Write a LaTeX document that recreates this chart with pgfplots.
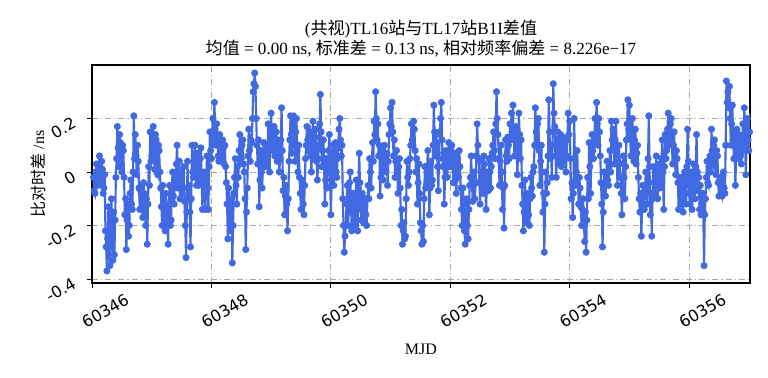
\documentclass[border=0pt]{standalone}
\usepackage{fontspec}
\setmainfont{Liberation Serif}
\newfontfamily\cjk{Noto Sans CJK SC}
\newfontfamily\tickfont{DejaVu Sans}
\usepackage{pgfplots}
\pgfplotsset{compat=1.18}
\definecolor{royal}{HTML}{4169E1}
\definecolor{gridc}{HTML}{A8A8A8}
\begin{document}
\begin{tikzpicture}
\useasboundingbox (-69pt,-71.25pt) rectangle (507pt,212.25pt);
\begin{axis}[
  scale only axis, width=493.5pt, height=163.5pt,
  at={(0,0)}, anchor=south west,
  xmin=0, xmax=11.02, ymin=-0.415, ymax=0.40,
  xtick={0,2,4,6,8,10}, xticklabels={60346,60348,60350,60352,60354,60356},
  ytick={-0.4,-0.2,0,0.2}, yticklabels={-0.4,-0.2,0,0.2},
  tick align=outside, major tick length=3.5pt,
  tick style={black, line width=0.6pt},
  xtick pos=lower, ytick pos=left,
  ticklabel style={font=\tickfont\fontsize{12}{12}\selectfont},
  xticklabel style={rotate=30, anchor=center, yshift=-20pt},
  yticklabel style={rotate=30, anchor=east, xshift=-6pt, yshift=3pt},
  grid=major, major grid style={gridc, line width=0.6pt, dash pattern=on 4.5pt off 2.2pt on 1pt off 2.2pt},
  axis line style={black, line width=0.8pt},
  xlabel={MJD}, ylabel={{\cjk 比对时差} /ns},
  label style={font=\fontsize{12}{14}\selectfont},
  xlabel style={at={(axis description cs:0.5,-0.306)}, anchor=center},
  ylabel style={at={(axis description cs:-0.082,0.5)}, anchor=center},
  title={({\cjk 共视})TL16{\cjk 站与}TL17{\cjk 站}B1I{\cjk 差值}\\{\cjk 均值} = 0.00 ns, {\cjk 标准差} = 0.13 ns, {\cjk 相对频率偏差} = 8.226e−17},
  title style={at={(axis description cs:0.5,1.085)}, anchor=center, align=center, font=\fontsize{12.8}{14.5}\selectfont},
]
\addplot[royal, line width=1.6pt, mark=*, mark size=1.8pt, mark options={royal, solid}] coordinates {
(0.025,-0.02)(0.0375,-0.07)(0.05,-0.08)(0.0625,0.0)(0.075,0.03)(0.0875,-0.03)(0.1,-0.05)(0.1125,0.02)(0.125,0.06)(0.1375,-0.02)(0.15,-0.03)(0.1625,0.04)(0.175,0.01)(0.1875,-0.08)(0.2,-0.06)(0.2125,-0.01)
(0.225,-0.22)(0.2375,-0.28)(0.25,-0.37)(0.2625,-0.25)(0.275,-0.13)(0.2875,-0.28)(0.3,-0.35)(0.3125,-0.2)(0.325,-0.10)(0.3375,-0.2)(0.35,-0.33)(0.3625,-0.15)(0.375,-0.31)(0.3875,-0.18)(0.4,-0.02)(0.4125,0.05)
(0.425,0.17)(0.4375,0.09)(0.45,0.02)(0.4625,0.14)(0.475,0.11)(0.4875,0.03)(0.5,0.0)(0.5125,0.1)(0.525,0.08)(0.5375,-0.02)(0.55,-0.16)(0.5625,-0.1)(0.575,-0.29)(0.5875,-0.18)(0.6,-0.12)(0.6125,-0.24)
(0.625,-0.2)(0.6375,-0.08)(0.65,-0.03)(0.6625,-0.12)(0.675,-0.14)(0.6875,0.0)(0.7,0.21)(0.7125,0.05)(0.725,0.14)(0.7375,0.06)(0.75,-0.01)(0.7625,0.1)(0.775,0.04)(0.7875,-0.06)(0.8,-0.14)(0.8125,-0.07)
(0.825,-0.05)(0.8375,-0.13)(0.85,-0.17)(0.8625,-0.04)(0.875,-0.08)(0.8875,-0.15)(0.9,-0.2)(0.9125,-0.1)(0.925,-0.27)(0.9375,-0.12)(0.95,0.02)(0.9625,-0.05)(0.975,0.15)(0.9875,0.04)(1.0,0.06)(1.0125,0.13)
(1.025,0.17)(1.0375,0.07)(1.05,0.01)(1.0625,0.14)(1.075,0.12)(1.0875,0.0)(1.1,-0.01)(1.1125,0.1)(1.125,0.08)(1.1375,0.0)(1.15,-0.06)(1.1625,-0.13)(1.175,-0.2)(1.1875,-0.05)(1.2,-0.1)(1.2125,-0.18)
(1.225,-0.22)(1.2375,-0.08)(1.25,-0.14)(1.2625,-0.2)(1.275,-0.27)(1.2875,-0.12)(1.3,-0.05)(1.3125,-0.2)(1.325,-0.18)(1.3375,-0.06)(1.35,0.0)(1.3625,-0.09)(1.375,-0.12)(1.3875,-0.02)(1.4,-0.03)(1.4125,0.03)
(1.425,0.1)(1.4375,-0.06)(1.45,-0.02)(1.4625,0.04)(1.475,-0.1)(1.4875,-0.03)(1.5,0.0)(1.5125,-0.08)(1.525,-0.06)(1.5375,0.02)(1.55,-0.11)(1.5625,-0.2)(1.575,-0.32)(1.5875,-0.15)(1.6,0.04)(1.6125,-0.1)
(1.625,-0.05)(1.6375,-0.15)(1.65,-0.28)(1.6625,-0.1)(1.675,0.1)(1.6875,0.0)(1.7,-0.02)(1.7125,0.06)(1.725,0.1)(1.7375,0.0)(1.75,-0.05)(1.7625,0.07)(1.775,0.04)(1.7875,-0.05)(1.8,-0.03)(1.8125,0.05)
(1.825,0.09)(1.8375,-0.04)(1.85,-0.14)(1.8625,-0.05)(1.875,0.0)(1.8875,-0.09)(1.9,-0.14)(1.9125,-0.03)(1.925,0.06)(1.9375,-0.06)(1.95,-0.14)(1.9625,0.02)(1.975,0.15)(1.9875,0.08)(2.0,0.05)(2.0125,0.14)
(2.025,0.2)(2.0375,0.12)(2.05,0.26)(2.0625,0.16)(2.075,0.1)(2.0875,0.18)(2.1,0.13)(2.1125,0.06)(2.125,0.04)(2.1375,0.14)(2.15,0.11)(2.1625,0.05)(2.175,0.06)(2.1875,0.12)(2.2,0.09)(2.2125,0.03)
(2.225,0.1)(2.2375,0.02)(2.25,-0.04)(2.2625,-0.12)(2.275,-0.25)(2.2875,-0.06)(2.3,-0.1)(2.3125,-0.22)(2.325,-0.2)(2.3375,-0.1)(2.35,-0.34)(2.3625,-0.2)(2.375,-0.08)(2.3875,-0.02)(2.4,0.05)(2.4125,-0.05)
(2.425,-0.12)(2.4375,0.02)(2.45,-0.02)(2.4625,0.08)(2.475,0.14)(2.4875,0.04)(2.5,0.05)(2.5125,0.1)(2.525,0.12)(2.5375,0.03)(2.55,0.0)(2.5625,-0.1)(2.575,-0.29)(2.5875,-0.15)(2.6,-0.06)(2.6125,0.06)
(2.625,0.16)(2.6375,0.08)(2.65,0.04)(2.6625,0.12)(2.675,0.11)(2.6875,0.2)(2.7,0.3)(2.7125,0.33)(2.725,0.37)(2.7375,0.32)(2.75,0.2)(2.7625,0.1)(2.775,0.03)(2.7875,0.12)(2.8,-0.13)(2.8125,-0.03)
(2.825,0.08)(2.8375,0.0)(2.85,-0.06)(2.8625,0.04)(2.875,0.11)(2.8875,0.02)(2.9,0.03)(2.9125,0.1)(2.925,0.09)(2.9375,0.02)(2.95,0.18)(2.9625,0.08)(2.975,0.0)(2.9875,0.12)(3.0,0.22)(3.0125,0.13)
(3.025,0.08)(3.0375,0.14)(3.05,0.17)(3.0625,0.06)(3.075,0.1)(3.0875,0.15)(3.1,0.04)(3.1125,0.12)(3.125,0.09)(3.1375,0.0)(3.15,0.05)(3.1625,0.12)(3.175,0.24)(3.1875,0.08)(3.2,-0.07)(3.2125,-0.02)
(3.225,-0.16)(3.2375,-0.09)(3.25,-0.05)(3.2625,-0.12)(3.275,-0.22)(3.2875,-0.1)(3.3,0.04)(3.3125,0.12)(3.325,0.21)(3.3375,0.14)(3.35,0.07)(3.3625,0.17)(3.375,0.21)(3.3875,0.12)(3.4,0.04)(3.4125,0.15)
(3.425,0.2)(3.4375,0.08)(3.45,0.0)(3.4625,0.1)(3.475,-0.02)(3.4875,-0.08)(3.5,-0.14)(3.5125,-0.03)(3.525,-0.05)(3.5375,-0.12)(3.55,-0.16)(3.5625,-0.05)(3.575,0.05)(3.5875,0.1)(3.6,0.17)(3.6125,0.12)
(3.625,0.08)(3.6375,0.14)(3.65,0.15)(3.6625,0.06)(3.675,0.0)(3.6875,0.1)(3.7,0.19)(3.7125,0.1)(3.725,0.05)(3.7375,0.13)(3.75,0.16)(3.7625,0.04)(3.775,-0.03)(3.7875,0.05)(3.8,0.1)(3.8125,0.18)
(3.825,0.29)(3.8375,0.15)(3.85,0.02)(3.8625,0.08)(3.875,0.12)(3.8875,0.02)(3.9,-0.12)(3.9125,-0.03)(3.925,0.05)(3.9375,-0.06)(3.95,0.0)(3.9625,0.08)(3.975,0.14)(3.9875,0.0)(4.0,-0.16)(4.0125,-0.05)
(4.025,0.06)(4.0375,0.1)(4.05,-0.05)(4.0625,0.03)(4.075,0.11)(4.0875,0.0)(4.1,-0.02)(4.1125,0.05)(4.125,0.09)(4.1375,0.16)(4.15,0.2)(4.1625,0.12)(4.175,0.06)(4.1875,0.1)(4.2,-0.1)(4.2125,-0.2)
(4.225,-0.3)(4.2375,-0.24)(4.25,-0.2)(4.2625,-0.12)(4.275,-0.05)(4.2875,-0.2)(4.3,-0.15)(4.3125,-0.04)(4.325,0.0)(4.3375,-0.12)(4.35,-0.22)(4.3625,-0.14)(4.375,-0.08)(4.3875,-0.2)(4.4,-0.18)(4.4125,-0.1)
(4.425,-0.03)(4.4375,-0.14)(4.45,-0.22)(4.4625,-0.06)(4.475,0.07)(4.4875,-0.04)(4.5,-0.12)(4.5125,-0.18)(4.525,-0.08)(4.5375,-0.15)(4.55,-0.19)(4.5625,-0.12)(4.575,-0.1)(4.5875,-0.16)(4.6,-0.2)(4.6125,-0.1)
(4.625,-0.05)(4.6375,-0.1)(4.65,0.05)(4.6625,0.0)(4.675,-0.06)(4.6875,0.04)(4.7,0.11)(4.7125,0.04)(4.725,0.19)(4.7375,0.14)(4.75,0.3)(4.7625,0.2)(4.775,0.12)(4.7875,0.18)(4.8,0.06)(4.8125,0.1)
(4.825,-0.09)(4.8375,-0.02)(4.85,0.08)(4.8625,0.02)(4.875,-0.03)(4.8875,0.05)(4.9,0.1)(4.9125,0.03)(4.925,0.0)(4.9375,0.07)(4.95,-0.05)(4.9625,0.04)(4.975,0.14)(4.9875,0.18)(5.0,0.24)(5.0125,0.17)
(5.025,0.26)(5.0375,0.15)(5.05,0.06)(5.0625,0.12)(5.075,-0.02)(5.0875,0.04)(5.1,0.08)(5.1125,0.0)(5.125,-0.08)(5.1375,0.02)(5.15,0.05)(5.1625,-0.06)(5.175,-0.2)(5.1875,-0.14)(5.2,-0.27)(5.2125,-0.22)
(5.225,-0.19)(5.2375,-0.25)(5.25,-0.24)(5.2625,-0.1)(5.275,0.04)(5.2875,-0.02)(5.3,-0.05)(5.3125,0.0)(5.325,0.05)(5.3375,0.1)(5.35,0.18)(5.3625,0.12)(5.375,0.1)(5.3875,0.19)(5.4,0.16)(5.4125,0.08)
(5.425,0.0)(5.4375,0.05)(5.45,-0.12)(5.4625,-0.04)(5.475,0.03)(5.4875,-0.08)(5.5,-0.19)(5.5125,-0.22)(5.525,-0.27)(5.5375,-0.2)(5.55,-0.26)(5.5625,-0.1)(5.575,0.02)(5.5875,-0.06)(5.6,-0.05)(5.6125,0.02)
(5.625,0.08)(5.6375,-0.04)(5.65,-0.16)(5.6625,-0.06)(5.675,0.04)(5.6875,-0.05)(5.7,-0.03)(5.7125,0.1)(5.725,0.25)(5.7375,0.15)(5.75,0.06)(5.7625,0.14)(5.775,0.11)(5.7875,0.02)(5.8,-0.07)(5.8125,0.05)
(5.825,0.15)(5.8375,0.2)(5.85,0.26)(5.8625,0.12)(5.875,0.02)(5.8875,0.07)(5.9,-0.12)(5.9125,-0.02)(5.925,0.08)(5.9375,0.02)(5.95,-0.02)(5.9625,0.06)(5.975,0.11)(5.9875,0.04)(6.0,0.02)(6.0125,0.08)
(6.025,0.1)(6.0375,0.03)(6.05,-0.04)(6.0625,0.04)(6.075,0.07)(6.0875,-0.03)(6.1,-0.08)(6.1125,0.02)(6.125,0.05)(6.1375,-0.02)(6.15,0.08)(6.1625,0.02)(6.175,-0.06)(6.1875,-0.14)(6.2,-0.2)(6.2125,-0.06)
(6.225,-0.12)(6.2375,-0.22)(6.25,-0.27)(6.2625,-0.17)(6.275,-0.1)(6.2875,-0.2)(6.3,-0.25)(6.3125,-0.14)(6.325,-0.05)(6.3375,-0.02)(6.35,0.06)(6.3625,-0.03)(6.375,-0.11)(6.3875,-0.05)(6.4,0.0)(6.4125,-0.1)
(6.425,-0.04)(6.4375,0.06)(6.45,0.18)(6.4625,0.1)(6.475,0.05)(6.4875,-0.04)(6.5,-0.12)(6.5125,-0.03)(6.525,0.04)(6.5375,-0.02)(6.55,-0.08)(6.5625,0.06)(6.575,0.03)(6.5875,-0.06)(6.6,-0.14)(6.6125,-0.05)
(6.625,0.0)(6.6375,-0.07)(6.65,0.05)(6.6625,0.0)(6.675,-0.06)(6.6875,0.02)(6.7,0.07)(6.7125,0.1)(6.725,0.15)(6.7375,0.08)(6.75,0.05)(6.7625,0.18)(6.775,0.3)(6.7875,0.2)(6.8,0.14)(6.8125,0.05)
(6.825,-0.05)(6.8375,0.04)(6.85,0.1)(6.8625,0.0)(6.875,-0.14)(6.8875,-0.06)(6.9,-0.21)(6.9125,-0.05)(6.925,0.12)(6.9375,0.06)(6.95,0.04)(6.9625,0.13)(6.975,0.1)(6.9875,0.05)(7.0,0.18)(7.0125,0.12)
(7.025,0.22)(7.0375,0.15)(7.05,0.25)(7.0625,0.14)(7.075,0.06)(7.0875,0.12)(7.1,0.17)(7.1125,0.08)(7.125,-0.01)(7.1375,0.1)(7.15,0.22)(7.1625,0.14)(7.175,0.05)(7.1875,0.12)(7.2,-0.05)(7.2125,-0.12)
(7.225,-0.22)(7.2375,-0.15)(7.25,-0.03)(7.2625,-0.1)(7.275,-0.19)(7.2875,-0.12)(7.3,-0.08)(7.3125,-0.16)(7.325,-0.2)(7.3375,-0.1)(7.35,-0.02)(7.3625,-0.06)(7.375,-0.09)(7.3875,0.0)(7.4,0.02)(7.4125,0.1)
(7.425,0.24)(7.4375,0.15)(7.45,0.1)(7.4625,0.18)(7.475,0.2)(7.4875,0.08)(7.5,-0.05)(7.5125,0.04)(7.525,0.1)(7.5375,0.0)(7.55,-0.15)(7.5625,-0.08)(7.575,-0.3)(7.5875,-0.12)(7.6,0.0)(7.6125,-0.08)
(7.625,-0.04)(7.6375,0.06)(7.65,0.27)(7.6625,0.15)(7.675,0.05)(7.6875,0.1)(7.7,-0.02)(7.7125,0.1)(7.725,0.33)(7.7375,0.22)(7.75,0.17)(7.7625,0.06)(7.775,-0.02)(7.7875,0.08)(7.8,0.15)(7.8125,0.06)
(7.825,0.03)(7.8375,0.12)(7.85,0.14)(7.8625,0.02)(7.875,0.08)(7.8875,0.13)(7.9,0.04)(7.9125,0.1)(7.925,0.12)(7.9375,0.0)(7.95,0.06)(7.9625,0.12)(7.975,0.22)(7.9875,0.14)(8.0,0.19)(8.0125,0.05)
(8.025,-0.1)(8.0375,-0.04)(8.05,-0.17)(8.0625,-0.08)(8.075,0.2)(8.0875,0.05)(8.1,-0.05)(8.1125,0.0)(8.125,0.08)(8.1375,-0.02)(8.15,-0.12)(8.1625,-0.02)(8.175,-0.06)(8.1875,-0.13)(8.2,-0.2)(8.2125,-0.14)
(8.225,-0.1)(8.2375,-0.18)(8.25,-0.26)(8.2625,-0.15)(8.275,-0.3)(8.2875,-0.18)(8.3,-0.02)(8.3125,-0.1)(8.325,0.11)(8.3375,0.02)(8.35,-0.08)(8.3625,0.06)(8.375,0.14)(8.3875,0.08)(8.4,0.05)(8.4125,0.12)
(8.425,0.2)(8.4375,0.14)(8.45,0.26)(8.4625,0.18)(8.475,0.1)(8.4875,0.2)(8.5,0.15)(8.5125,0.06)(8.525,-0.04)(8.5375,-0.12)(8.55,-0.28)(8.5625,-0.15)(8.575,0.0)(8.5875,-0.05)(8.6,-0.09)(8.6125,-0.02)
(8.625,0.04)(8.6375,-0.03)(8.65,-0.05)(8.6625,0.02)(8.675,0.08)(8.6875,0.0)(8.7,0.19)(8.7125,0.12)(8.725,0.16)(8.7375,0.1)(8.75,0.03)(8.7625,0.12)(8.775,0.19)(8.7875,0.08)(8.8,-0.05)(8.8125,0.04)
(8.825,0.1)(8.8375,0.03)(8.85,-0.02)(8.8625,-0.08)(8.875,-0.16)(8.8875,-0.05)(8.9,0.06)(8.9125,-0.02)(8.925,-0.1)(8.9375,0.02)(8.95,0.12)(8.9625,0.18)(8.975,0.27)(8.9875,0.16)(9.0,0.25)(9.0125,0.14)
(9.025,0.06)(9.0375,0.12)(9.05,0.2)(9.0625,0.1)(9.075,0.04)(9.0875,0.12)(9.1,0.16)(9.1125,0.03)(9.125,0.07)(9.1375,0.1)(9.15,-0.02)(9.1625,-0.1)(9.175,-0.15)(9.1875,-0.08)(9.2,-0.24)(9.2125,-0.14)
(9.225,-0.05)(9.2375,-0.12)(9.25,-0.14)(9.2625,-0.06)(9.275,0.0)(9.2875,-0.06)(9.3,-0.12)(9.3125,0.05)(9.325,0.21)(9.3375,0.02)(9.35,-0.16)(9.3625,-0.08)(9.375,-0.24)(9.3875,-0.1)(9.4,0.02)(9.4125,-0.04)
(9.425,-0.08)(9.4375,0.0)(9.45,0.06)(9.4625,-0.04)(9.475,-0.1)(9.4875,-0.02)(9.5,0.03)(9.5125,-0.06)(9.525,-0.04)(9.5375,0.05)(9.55,0.12)(9.5625,0.0)(9.575,-0.14)(9.5875,0.02)(9.6,0.14)(9.6125,0.05)
(9.625,0.08)(9.6375,0.16)(9.65,0.22)(9.6625,0.1)(9.675,0.12)(9.6875,0.18)(9.7,0.2)(9.7125,0.1)(9.725,0.03)(9.7375,0.1)(9.75,0.15)(9.7625,0.04)(9.775,-0.01)(9.7875,0.08)(9.8,0.05)(9.8125,-0.04)
(9.825,-0.14)(9.8375,-0.02)(9.85,-0.04)(9.8625,-0.12)(9.875,-0.1)(9.8875,-0.02)(9.9,-0.15)(9.9125,-0.05)(9.925,0.0)(9.9375,-0.08)(9.95,-0.12)(9.9625,0.02)(9.975,0.16)(9.9875,0.04)(10.0,-0.08)(10.0125,-0.12)
(10.025,0.0)(10.0375,-0.05)(10.05,-0.14)(10.0625,-0.04)(10.075,0.03)(10.0875,-0.06)(10.1,-0.1)(10.1125,0.02)(10.125,0.14)(10.1375,0.0)(10.15,-0.07)(10.1625,-0.02)(10.175,-0.14)(10.1875,-0.05)(10.2,-0.16)(10.2125,-0.12)
(10.225,-0.08)(10.2375,-0.15)(10.25,-0.35)(10.2625,-0.16)(10.275,-0.1)(10.2875,-0.02)(10.3,0.04)(10.3125,-0.04)(10.325,-0.05)(10.3375,0.02)(10.35,0.06)(10.3625,0.0)(10.375,0.16)(10.3875,0.08)(10.4,0.04)(10.4125,0.1)
(10.425,0.12)(10.4375,0.02)(10.45,-0.01)(10.4625,0.08)(10.475,0.06)(10.4875,-0.04)(10.5,-0.09)(10.5125,-0.03)(10.525,-0.02)(10.5375,-0.08)(10.55,-0.09)(10.5625,-0.02)(10.575,0.0)(10.5875,-0.06)(10.6,-0.08)(10.6125,0.1)
(10.625,0.34)(10.6375,0.26)(10.65,0.3)(10.6625,0.24)(10.675,0.32)(10.6875,0.2)(10.7,0.1)(10.7125,0.18)(10.725,0.25)(10.7375,0.12)(10.75,0.05)(10.7625,0.14)(10.775,-0.05)(10.7875,0.06)(10.8,0.16)(10.8125,0.08)
(10.825,0.05)(10.8375,0.14)(10.85,0.12)(10.8625,0.06)(10.875,0.03)(10.8875,0.1)(10.9,0.18)(10.9125,0.08)(10.925,0.24)(10.9375,0.12)(10.95,-0.01)(10.9625,0.1)(10.975,0.2)(10.9875,0.12)(11.0,0.08)(11.0125,0.15)
(11.025,0.22)
};
\end{axis}
\end{tikzpicture}
\end{document}
